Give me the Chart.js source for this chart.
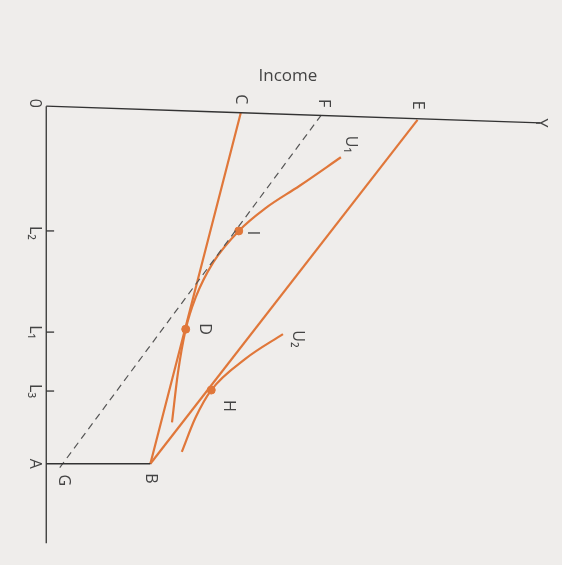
<!DOCTYPE html>
<html>
<head>
<style>body{margin:0;background:#efedeb}canvas{display:block}</style>
<script src="https://cdn.jsdelivr.net/npm/chart.js@4"></script>
</head>
<body>
<canvas id="c" width="562" height="565"></canvas>
<script>
// diagram data (photo coordinates: x right, y down)
const incomeAxis = [{x:42,y:103},{x:545,y:120}];
const leisureAxis = [{x:42,y:103},{x:42,y:548}];
const lineAB = [{x:42,y:467},{x:148,y:467}];
const lineCB = [{x:240,y:110},{x:148,y:467}];
const lineEB = [{x:420,y:117},{x:148,y:467}];
const lineFG = [{x:322,y:112},{x:55,y:472}];
const curveU1 = [{x:342,y:155},{x:300,y:184},{x:265,y:207},{x:238,y:230},{x:212,y:262},{x:194,y:298},{x:184,y:330},{x:176,y:375},{x:170,y:425}];
const curveU2 = [{x:283,y:335},{x:245,y:360},{x:210,y:392},{x:194,y:420},{x:180,y:455}];
const dots = [{x:238,y:230},{x:184,y:330},{x:210,y:392}];
const tickYs = [230,333,393];
// labels: text, x, y, rotated
const labels = [
  ['Income',288,72,false],['0',30,100,true],['C',240,96,true],['F',324,100,true],['E',420,102,true],['Y',545,120,true],
  ['U₁',352,142,true],['I',252,232,true],['D',203,330,true],['U₂',298,340,true],['H',228,408,true],
  ['L₂',30,232,true],['L₁',30,333,true],['L₃',30,393,true],['A',30,467,true],['B',148,482,true],['G',60,484,true]
];
const orange = '#e0773a';
const dark = '#333';

const ticks = tickYs.map(y => ({label:'', data:[{x:42,y:y},{x:50,y:y}], borderColor:dark, borderWidth:1.3, showLine:true, pointRadius:0}));
function seg(d, color, w, dash) {
  return {data:d, borderColor:color, borderWidth:w, borderDash:dash||[], showLine:true, pointRadius:0, tension:0.4, cubicInterpolationMode:'monotone'};
}

const textPlugin = {
  id:'text',
  afterDatasetsDraw(chart) {
    const ctx = chart.ctx, sx = chart.scales.x, sy = chart.scales.y;
    ctx.save();
    ctx.fillStyle = '#444';
    ctx.textAlign = 'center'; ctx.textBaseline = 'middle';
    labels.forEach(([t,x,y,rot]) => {
      ctx.save();
      ctx.translate(sx.getPixelForValue(x), sy.getPixelForValue(y));
      if (rot) ctx.rotate(Math.PI/2);
      ctx.font = rot ? '16px "Open Sans"' : '17px "Open Sans"';
      ctx.fillText(t,0,0);
      ctx.restore();
    });
    ctx.restore();
  }
};

new Chart(document.getElementById('c'), {
  type:'scatter',
  data:{datasets:[
    seg(incomeAxis, dark, 1.3), seg(leisureAxis, dark, 1.3), seg(lineAB, dark, 1.3),
    ...ticks,
    seg(lineFG, '#555', 1.2, [7,5]),
    seg(lineCB, orange, 2.2), seg(lineEB, orange, 2.2),
    {data:curveU1, borderColor:orange, borderWidth:2.2, showLine:true, pointRadius:0, cubicInterpolationMode:'monotone'},
    {data:curveU2, borderColor:orange, borderWidth:2.2, showLine:true, pointRadius:0, cubicInterpolationMode:'monotone'},
    {data:dots, showLine:false, pointRadius:4, backgroundColor:orange, borderColor:orange}
  ]},
  options:{
    responsive:false, animation:false,
    layout:{padding:0},
    plugins:{legend:{display:false}, tooltip:{enabled:false}},
    scales:{
      x:{type:'linear', min:0, max:562, display:false},
      y:{type:'linear', min:0, max:565, reverse:true, display:false}
    }
  },
  plugins:[textPlugin]
});
</script>
</body>
</html>
